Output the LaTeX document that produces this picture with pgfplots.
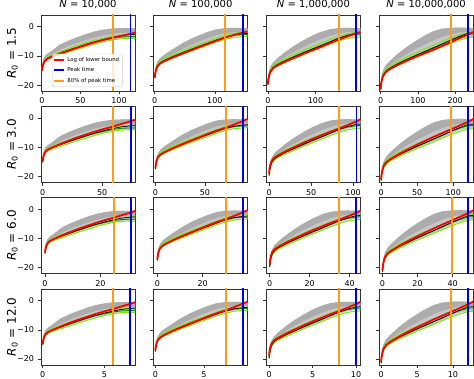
\documentclass[border=0pt]{standalone}
\usepackage{pgfplots}
\pgfplotsset{compat=1.18}
\usepackage{pgfplotstable}
\usepgfplotslibrary{groupplots,fillbetween}
\usepackage{fontspec}
\setmainfont{DejaVu Sans}

\definecolor{mylime}{RGB}{130,230,20}
\definecolor{mydkgreen}{RGB}{0,128,0}
\definecolor{myorange}{RGB}{255,155,25}
\definecolor{myblue}{RGB}{0,0,225}
\definecolor{bandlight}{RGB}{198,198,198}
\definecolor{banddark}{RGB}{172,172,172}

\pgfplotsset{legend image code/.code={\draw[#1] (0pt,0pt) -- (10pt,0pt);}}

% t = time / peak time
\pgfplotstableread{
t     gu    gm    gl    r1    r2    g1    g2    dg    bk
0     -14.0 -14.6 -15.3 -15.2 -14.8 -14.8 -15.3 -15.1 -15.0
0.005 -12.6 -13.4 -14.2 -14.0 -13.6 -13.6 -14.2 -13.9 -13.8
0.015 -11.2 -12.1 -13.0 -12.8 -12.5 -12.4 -13.0 -12.7 -12.6
0.03  -10.2 -11.1 -12.0 -11.8 -11.6 -11.3 -12.0 -11.7 -11.6
0.06  -9.3  -10.3 -11.2 -11.0 -10.8 -10.4 -11.2 -10.8 -10.8
0.1   -8.5  -9.6  -10.6 -10.4 -10.2 -9.8  -10.7 -10.3 -10.2
0.2   -6.2  -7.9  -9.5  -9.3  -8.9  -8.6  -9.7  -9.1  -9.1
0.3   -4.8  -6.6  -8.4  -8.2  -7.7  -7.5  -8.7  -8.1  -8.0
0.4   -3.6  -5.5  -7.4  -7.2  -6.6  -6.4  -7.7  -7.1  -7.0
0.5   -2.5  -4.5  -6.5  -6.2  -5.6  -5.5  -6.8  -6.1  -6.0
0.6   -1.6  -3.6  -5.6  -5.3  -4.6  -4.6  -5.9  -5.2  -5.1
0.7   -1.0  -2.9  -4.9  -4.5  -3.7  -3.9  -5.1  -4.5  -4.3
0.8   -0.6  -2.4  -4.3  -3.8  -2.9  -3.2  -4.5  -3.9  -3.6
0.9   -0.5  -2.1  -3.9  -3.1  -2.0  -2.8  -4.1  -3.5  -3.0
1.0   -0.5  -2.0  -3.7  -2.4  -1.1  -2.6  -4.0  -3.4  -2.7
1.06  -0.6  -2.1  -3.7  -2.0  -0.5  -2.5  -4.0  -3.4  -2.6
}\cA
\pgfplotstableread{
t     gu    gm    gl    r1    r2    g1    g2    dg    bk
0     -16.5 -17.0 -17.6 -17.5 -17.0 -17.0 -17.6 -17.4 -17.4
0.005 -14.8 -15.5 -16.3 -16.2 -15.7 -15.6 -16.3 -16.0 -16.0
0.015 -13.2 -14.1 -15.0 -14.8 -14.4 -14.1 -15.0 -14.6 -14.6
0.03  -12.0 -12.9 -13.8 -13.6 -13.4 -12.9 -13.8 -13.4 -13.4
0.06  -10.8 -11.8 -12.8 -12.6 -12.5 -11.8 -12.8 -12.4 -12.4
0.1   -9.8  -11.0 -12.1 -11.9 -11.8 -11.0 -12.1 -11.6 -11.7
0.2   -7.8  -9.3  -10.8 -10.6 -10.3 -9.6  -10.8 -10.2 -10.4
0.3   -5.9  -7.8  -9.6  -9.4  -9.0  -8.4  -9.6  -9.0  -9.2
0.4   -4.3  -6.4  -8.4  -8.2  -7.8  -7.2  -8.5  -7.8  -8.0
0.5   -3.0  -5.1  -7.2  -7.0  -6.6  -6.1  -7.4  -6.7  -6.8
0.6   -1.8  -3.9  -6.1  -5.9  -5.4  -5.0  -6.3  -5.6  -5.7
0.7   -0.9  -2.9  -5.0  -4.8  -4.3  -3.9  -5.2  -4.5  -4.6
0.8   -0.5  -2.2  -4.0  -3.7  -3.3  -2.9  -4.3  -3.6  -3.5
0.9   -0.4  -1.8  -3.3  -2.8  -2.2  -2.2  -3.6  -2.9  -2.8
1.0   -0.5  -1.7  -3.0  -2.0  -1.0  -1.8  -3.4  -2.7  -2.4
1.06  -0.6  -1.8  -3.0  -1.6  -0.2  -1.7  -3.3  -2.7  -2.3
}\cB
\pgfplotstableread{
t     gu    gm    gl    r1    r2    g1    g2    dg    bk
0     -18.8 -19.3 -19.9 -19.8 -18.8 -19.3 -19.9 -19.6 -19.6
0.005 -16.8 -17.6 -18.4 -18.3 -17.3 -17.7 -18.4 -18.1 -18.1
0.015 -15.0 -15.9 -16.8 -16.7 -15.8 -16.0 -16.9 -16.5 -16.5
0.03  -13.6 -14.5 -15.5 -15.4 -14.6 -14.6 -15.6 -15.1 -15.2
0.06  -12.2 -13.2 -14.3 -14.2 -13.6 -13.3 -14.4 -13.9 -14.0
0.1   -11.0 -12.2 -13.5 -13.4 -12.8 -12.4 -13.6 -13.0 -13.2
0.2   -8.6  -10.2 -12.0 -11.9 -11.2 -10.8 -12.2 -11.5 -11.6
0.3   -6.5  -8.5  -10.7 -10.6 -9.8  -9.4  -10.9 -10.1 -10.3
0.4   -4.7  -6.9  -9.4  -9.3  -8.4  -8.1  -9.6  -8.8  -9.0
0.5   -3.1  -5.5  -8.2  -8.1  -7.1  -6.8  -8.4  -7.6  -7.7
0.6   -1.8  -4.2  -7.0  -6.9  -5.9  -5.6  -7.2  -6.4  -6.5
0.7   -0.9  -3.1  -5.8  -5.6  -4.7  -4.4  -6.0  -5.2  -5.2
0.8   -0.5  -2.3  -4.6  -4.4  -3.6  -3.3  -4.9  -4.0  -3.9
0.9   -0.4  -1.8  -3.6  -3.3  -2.4  -2.4  -4.0  -3.1  -2.9
1.0   -0.5  -1.7  -3.2  -2.2  -1.2  -1.8  -3.6  -2.6  -2.2
1.06  -0.6  -1.8  -3.2  -1.7  -0.2  -1.7  -3.5  -2.5  -2.1
}\cC
\pgfplotstableread{
t     gu    gm    gl    r1    r2    g1    g2    dg    bk
0     -20.5 -21.0 -21.6 -21.5 -21.0 -21.0 -21.6 -21.3 -21.3
0.005 -18.3 -19.1 -19.9 -19.8 -19.4 -19.2 -19.9 -19.6 -19.6
0.015 -16.4 -17.3 -18.3 -18.2 -17.7 -17.5 -18.3 -17.9 -18.0
0.03  -14.8 -15.8 -16.9 -16.8 -16.3 -16.0 -17.0 -16.5 -16.6
0.06  -13.2 -14.4 -15.6 -15.5 -15.1 -14.6 -15.7 -15.2 -15.3
0.1   -11.9 -13.3 -14.7 -14.6 -14.2 -13.6 -14.8 -14.2 -14.4
0.2   -9.2  -11.1 -13.1 -13.0 -12.4 -11.8 -13.3 -12.5 -12.7
0.3   -6.9  -9.3  -11.7 -11.6 -10.8 -10.4 -11.9 -11.1 -11.3
0.4   -4.9  -7.6  -10.4 -10.3 -9.3  -9.0  -10.6 -9.8  -9.9
0.5   -3.1  -6.1  -9.2  -9.1  -7.9  -7.7  -9.4  -8.5  -8.6
0.6   -1.6  -4.7  -8.0  -7.9  -6.5  -6.4  -8.2  -7.2  -7.3
0.7   -0.7  -3.5  -6.7  -6.6  -5.2  -5.1  -6.9  -5.9  -6.0
0.8   -0.4  -2.6  -5.4  -5.3  -3.9  -3.9  -5.7  -4.6  -4.6
0.9   -0.3  -1.9  -4.2  -3.9  -2.6  -2.8  -4.6  -3.5  -3.3
1.0   -0.4  -1.8  -3.6  -2.6  -1.3  -1.9  -3.8  -2.6  -2.2
1.06  -0.5  -1.9  -3.5  -1.8  -0.3  -1.8  -3.6  -2.5  -2.1
}\cD

% #1 peak time, #2 80% of peak, #3 xmin, #4 xmax, #5 table, #6 red column, #7 xticks, #8 extra options
\newcommand\panel[8]{%
\nextgroupplot[xmin=#3,xmax=#4,xtick={#7},#8]
\addplot[name path=up,draw=none,forget plot] table[x expr=\thisrow{t}*#1,y=gu]{#5};
\addplot[name path=mid,draw=none,forget plot] table[x expr=\thisrow{t}*#1,y=gm]{#5};
\addplot[name path=lo,draw=none,forget plot] table[x expr=\thisrow{t}*#1,y=gl]{#5};
\addplot[bandlight,forget plot] fill between[of=up and lo];
\addplot[banddark,forget plot] fill between[of=up and mid];
\addplot[mylime,line width=1.1pt,forget plot] table[x expr=\thisrow{t}*#1,y=g2]{#5};
\addplot[mylime,line width=1.1pt,forget plot] table[x expr=\thisrow{t}*#1,y=g1]{#5};
\addplot[mydkgreen,line width=0.8pt,forget plot] table[x expr=\thisrow{t}*#1,y=dg]{#5};
\addplot[black,line width=0.7pt,forget plot] table[x expr=\thisrow{t}*#1,y=bk]{#5};
\addplot[red,line width=1.8pt] table[x expr=\thisrow{t}*#1,y=#6]{#5};
\addplot[myblue,line width=1.9pt] coordinates {(#1,-23) (#1,5)};
\addplot[myorange,line width=1.9pt] coordinates {(#2,-23) (#2,5)};
}

\begin{document}
\begin{tikzpicture}
\begin{groupplot}[
  group style={group size=4 by 4, horizontal sep=18.7pt, vertical sep=15.3pt},
  scale only axis, width=94pt, height=76pt,
  ymin=-22, ymax=4, ytick={-20,-10,0}, yticklabels={},
  tick align=outside, xtick pos=left, ytick pos=left, major tick length=3.5pt,
  axis line style={black!80,line width=0.6pt},
  tick style={black!80,line width=0.6pt},
  tick label style={font=\fontsize{8}{9}\selectfont},
  /pgf/number format/assume math mode=true,
  title style={font=\fontsize{10}{12}\selectfont, yshift=-3pt},
  ylabel style={font=\fontsize{12}{14}\selectfont},
  ylabel shift=-7.5pt,
  legend cell align=left,
]
\panel{115}{92}{-1.3}{120.8}{\cA}{r1}{0,50,100}{title={\textit{N} = 10,000}, ylabel={\textit{R}\textsubscript{0} = 1.5}, yticklabels={−20,−10,0},
  legend entries={Log of lower bound,Peak time,80\% of peak time},
  legend style={at={(0.118,0.053)},anchor=south west,font=\fontsize{5.4}{6.2}\selectfont,draw=black!20,rounded corners=1.5pt,fill=white,fill opacity=0.8,text opacity=1,inner sep=1.2pt,row sep=0.8pt}}
\panel{147}{117.6}{-1.7}{154.7}{\cB}{r1}{0,100}{title={\textit{N} = 100,000}}
\panel{186}{148.8}{-3}{194.3}{\cC}{r1}{0,100}{title={\textit{N} = 1,000,000}}
\panel{235}{188.5}{-4}{248}{\cD}{r1}{0,100,200}{title={\textit{N} = 10,000,000}}
\panel{74}{59}{-1.4}{77.6}{\cA}{r2}{0,50}{ylabel={\textit{R}\textsubscript{0} = 3.0}, yticklabels={−20,−10,0}}
\panel{88.6}{71.5}{-1.7}{93.2}{\cB}{r2}{0,50}{}
\panel{104}{82.9}{-3.2}{108.7}{\cC}{r2}{0,50,100}{}
\panel{120.7}{96.8}{-2.8}{127.5}{\cD}{r2}{0,50,100}{}
\panel{30.9}{24.8}{-1.45}{32.5}{\cA}{r2}{0,20}{ylabel={\textit{R}\textsubscript{0} = 6.0}, yticklabels={−20,−10,0}}
\panel{37.9}{30.4}{-1.6}{39.9}{\cB}{r2}{0,20}{}
\panel{43.4}{34.5}{-1.65}{45.4}{\cC}{r2}{0,20,40}{}
\panel{48.9}{39.4}{-1.9}{51.6}{\cD}{r2}{0,20,40}{}
\panel{7.1}{5.67}{-0.14}{7.47}{\cA}{r2}{0,5}{ylabel={\textit{R}\textsubscript{0} = 12.0}, yticklabels={−20,−10,0}}
\panel{9.04}{7.3}{-0.17}{9.5}{\cB}{r2}{0,5}{}
\panel{10.03}{8.0}{-0.31}{10.5}{\cC}{r2}{0,5,10}{}
\panel{12.1}{9.7}{-0.28}{12.8}{\cD}{r2}{0,5,10}{}
\end{groupplot}
\pgfresetboundingbox
\path (group c1r1.north west) ++(-41pt,15pt) rectangle ++(474pt,-379pt);
\end{tikzpicture}
\end{document}
